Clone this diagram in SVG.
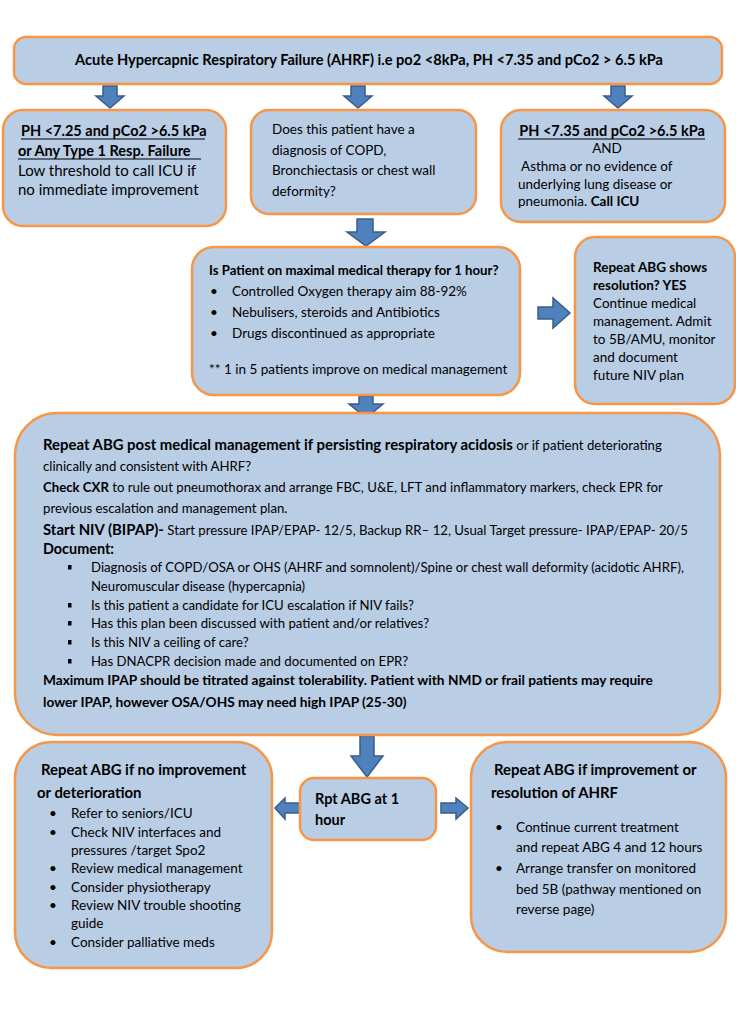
<svg xmlns="http://www.w3.org/2000/svg" width="736" height="1024" viewBox="0 0 736 1024">
<style>
.box{fill:#b9cde5;stroke:#f79646;stroke-width:2.5}
.arr{fill:#4f81bd;stroke:#385d8a;stroke-width:1.5;stroke-linejoin:miter}
text{font-family:Lato,"Open Sans","Liberation Sans",sans-serif;fill:#000}
.b{font-weight:bold}
.t13{font-size:13.5px}
.t14{font-size:14px}
.t12{font-size:13.2px}
</style>
<rect width="736" height="1024" fill="#fff"/>
<g id="connectors">
<path class="arr" d="M103,86 h14 v10 h7 l-14,12 l-14,-12 h7 z"/>
<path class="arr" d="M351,86 h14 v10 h7 l-14,12 l-14,-12 h7 z"/>
<path class="arr" d="M611,86 h14 v10 h7 l-14,12 l-14,-12 h7 z"/>
<path class="arr" d="M357,219 h16 v13 h12 l-19,14 l-19,-14 h10 z"/>
<path class="arr" d="M538,307 h15 v-9 l17,15 l-17,15 v-9 h-15 z"/>
<path class="arr" d="M359,396 h14 v8 h10 l-17,14 l-17,-14 h10 z"/>
<path class="arr" d="M360,736 h14 v20 h9 l-16,21 l-16,-21 h9 z"/>
<path class="arr" d="M300,803 h-15 v-5 l-10,10 l10,11 v-6 h15 z"/>
<path class="arr" d="M441,803 h15 v-5 l12,10 l-12,11 v-6 h-15 z"/>
</g>
<g id="n-top">
<rect class="box" x="14" y="37" width="708" height="47" rx="12"/>
<text class="b" font-size="14.6" x="369" y="65" text-anchor="middle">Acute Hypercapnic Respiratory Failure (AHRF) i.e po2 &lt;8kPa, PH &lt;7.35 and pCo2 &gt; 6.5 kPa</text>
</g>
<g id="n-left1">
<rect class="box" x="3" y="110" width="223" height="116" rx="20"/>
<text class="b" font-size="14.5" x="21" y="136">PH &lt;7.25 and pCo2 &gt;6.5 kPa</text>
<line x1="21" y1="139" x2="205" y2="139" stroke="#000" stroke-width="1"/>
<text class="b" font-size="14.5" x="18" y="156">or Any Type 1 Resp. Failure</text>
<line x1="18" y1="159" x2="201" y2="159" stroke="#000" stroke-width="1"/>
<text font-size="15" x="18" y="176">Low threshold to call ICU if</text>
<text font-size="15" x="18" y="195">no immediate improvement</text>
</g>
<g id="n-mid1">
<rect class="box" x="251" y="110" width="225" height="104" rx="18"/>
<text class="t13" x="272" y="134">Does this patient have a</text>
<text class="t13" x="272" y="155">diagnosis of COPD,</text>
<text class="t13" x="272" y="175">Bronchiectasis or chest wall</text>
<text class="t13" x="272" y="196">deformity?</text>
</g>
<g id="n-right1">
<rect class="box" x="501" y="110" width="224" height="112" rx="20"/>
<text class="b" font-size="14.5" x="612" y="136" text-anchor="middle">PH &lt;7.35 and pCo2 &gt;6.5 kPa</text>
<line x1="518" y1="139" x2="705" y2="139" stroke="#000" stroke-width="1"/>
<text class="t13" x="607" y="153" text-anchor="middle">AND</text>
<text class="t13" x="521" y="171">Asthma or no evidence of</text>
<text class="t13" x="518" y="189">underlying lung disease or</text>
<text class="t13" x="518" y="206">pneumonia.  <tspan class="b">Call ICU</tspan></text>
</g>
<g id="n-maxmed">
<rect class="box" x="192" y="247" width="328" height="148" rx="22"/>
<text class="b" font-size="13.2" x="209" y="275">Is Patient on maximal medical therapy for 1 hour?</text>
<text class="t13" x="210" y="296">•</text>
<text class="t13" x="232" y="296">Controlled Oxygen therapy aim 88-92%</text>
<text class="t13" x="210" y="317">•</text>
<text class="t13" x="232" y="317">Nebulisers, steroids and Antibiotics</text>
<text class="t13" x="210" y="338">•</text>
<text class="t13" x="232" y="338">Drugs discontinued as appropriate</text>
<text class="t13" x="209" y="374">** 1 in 5 patients improve on medical management</text>
</g>
<g id="n-resolution">
<rect class="box" x="575" y="237" width="160" height="167" rx="20"/>
<text class="b t13" x="593" y="272">Repeat ABG shows</text>
<text class="b t13" x="593" y="290">resolution? YES</text>
<text class="t13" x="593" y="308">Continue medical</text>
<text class="t13" x="593" y="326">management. Admit</text>
<text class="t13" x="593" y="344">to 5B/AMU, monitor</text>
<text class="t13" x="593" y="362">and document</text>
<text class="t13" x="593" y="380">future NIV plan</text>
</g>
<g id="n-niv">
<rect class="box" x="15" y="413" width="705" height="322" rx="42"/>
<text class="t12" x="43" y="450"><tspan class="b" font-size="14.9">Repeat ABG post medical management if persisting respiratory acidosis</tspan> or if patient deteriorating</text>
<text class="t12" x="43" y="471">clinically and consistent with AHRF?</text>
<text class="t12" x="43" y="492"><tspan class="b" font-size="13.2">Check CXR</tspan> to rule out pneumothorax and arrange FBC, U&amp;E, LFT and inflammatory markers, check EPR for</text>
<text class="t12" x="43" y="513">previous escalation and management plan.</text>
<text class="t12" x="43" y="535"><tspan class="b" font-size="14.9">Start NIV (BIPAP)-</tspan> Start pressure IPAP/EPAP- 12/5,  Backup RR– 12, Usual Target pressure- IPAP/EPAP- 20/5</text>
<text class="b" font-size="14.4" x="43" y="554">Document:</text>
<g class="t12">
<rect x="68" y="565" width="3.5" height="4.5" fill="#000"/>
<text x="91" y="572">Diagnosis of COPD/OSA or OHS (AHRF and somnolent)/Spine or chest wall deformity (acidotic AHRF),</text>
<text x="91" y="591">Neuromuscular disease (hypercapnia)</text>
<rect x="68" y="603" width="3.5" height="4.5" fill="#000"/>
<text x="91" y="610">Is this patient a candidate for ICU escalation if NIV fails?</text>
<rect x="68" y="621" width="3.5" height="4.5" fill="#000"/>
<text x="91" y="628">Has this plan been discussed with patient and/or relatives?</text>
<rect x="68" y="640" width="3.5" height="4.5" fill="#000"/>
<text x="91" y="647">Is this NIV a ceiling of care?</text>
<rect x="68" y="659" width="3.5" height="4.5" fill="#000"/>
<text x="91" y="666">Has DNACPR decision made and documented on EPR?</text>
</g>
<text class="b" font-size="13.7" x="43" y="685">Maximum IPAP should be titrated against tolerability. Patient with NMD or frail patients may require</text>
<text class="b" font-size="13.7" x="43" y="707">lower IPAP, however OSA/OHS may need high IPAP (25-30)</text>
</g>
<g id="n-rpt">
<rect class="box" x="300" y="778" width="136" height="62" rx="14"/>
<text class="b" font-size="14.5" x="315" y="804">Rpt ABG at 1</text>
<text class="b" font-size="14.5" x="315" y="825">hour</text>
</g>
<g id="n-noimprove">
<rect class="box" x="15" y="742" width="257" height="226" rx="36"/>
<text class="b" font-size="14.9" x="41" y="775">Repeat ABG if no improvement</text>
<text class="b" font-size="14.9" x="37" y="798">or deterioration</text>
<g class="t13">
<text x="49" y="818">•</text><text x="71" y="818">Refer to seniors/ICU</text>
<text x="49" y="837">•</text><text x="71" y="837">Check NIV interfaces and</text>
<text x="71" y="855">pressures /target Spo2</text>
<text x="49" y="873">•</text><text x="71" y="873">Review medical management</text>
<text x="49" y="892">•</text><text x="71" y="892">Consider physiotherapy</text>
<text x="49" y="910">•</text><text x="71" y="910">Review NIV trouble shooting</text>
<text x="71" y="928">guide</text>
<text x="49" y="947">•</text><text x="71" y="947">Consider palliative  meds</text>
</g>
</g>
<g id="n-improve">
<rect class="box" x="471" y="742" width="255" height="210" rx="36"/>
<text class="b" font-size="14.9" x="494" y="775">Repeat ABG if improvement or</text>
<text class="b" font-size="14.9" x="491" y="798">resolution of AHRF</text>
<g class="t13">
<text x="495" y="832">•</text><text x="516" y="832">Continue current treatment</text>
<text x="516" y="852">and repeat ABG 4 and 12 hours</text>
<text x="495" y="873">•</text><text x="516" y="873">Arrange transfer on monitored</text>
<text x="516" y="894">bed 5B (pathway mentioned on</text>
<text x="516" y="914">reverse page)</text>
</g>
</g>
</svg>
